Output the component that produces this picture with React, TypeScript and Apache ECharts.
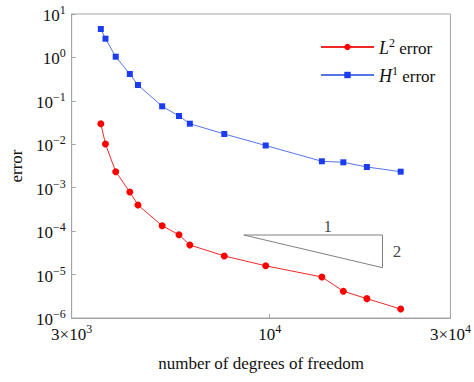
import React, { useEffect, useRef } from "react";
import * as echarts from "echarts";

const dofs = [3582, 3684, 3921, 4272, 4489, 5200, 5760, 6153, 7586, 9758, 13729, 15643, 18050, 22167];
const l2Errors = [0.0298, 0.01016, 0.00234, 0.000796, 0.0004, 0.000133, 8.28e-5, 4.8e-5, 2.68e-5, 1.59e-5, 8.8e-6, 4.12e-6, 2.79e-6, 1.61e-6];
const h1Errors = [4.52, 2.7, 1.04, 0.415, 0.232, 0.075, 0.0448, 0.0298, 0.01726, 0.00938, 0.00406, 0.00385, 0.003, 0.00234];
const xTickLabels = [3000, 10000, 30000];
const xTickMarks = [10000];
const yTickValues = [1e-6, 1e-5, 1e-4, 1e-3, 1e-2, 1e-1, 1, 10];
const slopeTriangleX = [8541, 19849, 19849, 8541];
const slopeTriangleY = [8.15e-5, 8.15e-5, 1.44e-5, 8.15e-5];
const slopeLabelText = ["1", "2"];
const slopeLabelX = [14235, 21684];
const slopeLabelY = [1.25e-4, 3.31e-5];

const FONT = "Liberation Serif";
const GRAY = "#a3a3a3";
const INK = "#111111";

function supRich(base: number, sup: number) {
  return {
    b: { fontSize: base, lineHeight: 20, verticalAlign: "bottom", fontFamily: FONT, color: INK },
    s: { fontSize: sup, lineHeight: 12, verticalAlign: "top", fontFamily: FONT, color: INK },
    i: { fontSize: base + 1, lineHeight: 20, verticalAlign: "bottom", fontFamily: FONT, fontStyle: "italic", color: INK },
  };
}

function expOf(v: number) {
  return Math.round(Math.log10(v));
}

export default function App() {
  const ref = useRef<HTMLDivElement>(null);
  useEffect(() => {
    if (!ref.current) return;
    const chart = echarts.init(ref.current, undefined, { renderer: "svg" });
    const option: any = {
      animation: false,
      backgroundColor: "#ffffff",
      grid: { left: 70, right: 21, top: 14, bottom: 64, show: true, borderColor: GRAY, borderWidth: 1 },
      legend: {
        data: ["L2", "H1"],
        orient: "vertical",
        left: 315,
        top: 32,
        itemWidth: 53,
        itemHeight: 8,
        itemGap: 8,
        textStyle: { fontFamily: FONT, fontSize: 17, color: INK, rich: supRich(17, 12) },
        formatter: (name: string) =>
          name === "L2" ? "{i|L}{s|2}{b| error}" : "{i|H}{s|1}{b| error}",
      },
      xAxis: {
        type: "log",
        logBase: 10,
        min: 3000,
        max: 30000,
        name: "number of degrees of freedom",
        nameLocation: "middle",
        nameGap: 37,
        nameTextStyle: { fontFamily: FONT, fontSize: 17, color: INK },
        axisLine: { show: true, lineStyle: { color: GRAY } },
        axisTick: { show: true, inside: true, length: 4, lineStyle: { color: GRAY }, customValues: xTickMarks },
        axisLabel: {
          customValues: xTickLabels,
          margin: 5,
          showMinLabel: true,
          showMaxLabel: true,
          rich: supRich(17, 12),
          formatter: (v: number) => {
            const e = Math.floor(Math.log10(v) + 1e-9);
            const m = Math.round(v / Math.pow(10, e));
            return m === 1 ? `{b|10}{s|${e}}` : `{b|${m}×10}{s|${e}}`;
          },
        },
        splitLine: { show: false },
        minorTick: { show: false },
      },
      yAxis: {
        type: "log",
        logBase: 10,
        min: 1e-6,
        max: 10,
        name: "error",
        nameLocation: "middle",
        nameGap: 44,
        nameTextStyle: { fontFamily: FONT, fontSize: 17, color: INK },
        axisLine: { show: true, lineStyle: { color: GRAY } },
        axisTick: { show: true, inside: true, length: 4, lineStyle: { color: GRAY }, customValues: yTickValues },
        axisLabel: {
          customValues: yTickValues,
          margin: 6,
          rich: supRich(17, 12),
          formatter: (v: number) => {
            const e = expOf(v);
            return `{b|10}{s|${e < 0 ? "−" + -e : e}}`;
          },
        },
        splitLine: { show: false },
        minorTick: { show: false },
      },
      series: [
        {
          name: "L2",
          type: "line",
          data: dofs.map((d, i) => [d, l2Errors[i]]),
          symbol: "circle",
          symbolSize: 7,
          lineStyle: { color: "#f02828", width: 1 },
          itemStyle: { color: "#ff0000" },
        },
        {
          name: "H1",
          type: "line",
          data: dofs.map((d, i) => [d, h1Errors[i]]),
          symbol: "rect",
          symbolSize: 6,
          lineStyle: { color: "#5874e4", width: 1 },
          itemStyle: { color: "#1c3cf2" },
        },
        {
          name: "slope",
          type: "line",
          data: slopeTriangleX.map((x, i) => [x, slopeTriangleY[i]]),
          symbol: "none",
          silent: true,
          lineStyle: { color: "#808080", width: 1 },
        },
        {
          name: "slopeLabels",
          type: "scatter",
          data: slopeLabelX.map((x, i) => ({ value: [x, slopeLabelY[i]], name: slopeLabelText[i] })),
          symbolSize: 1,
          itemStyle: { color: "rgba(0,0,0,0)" },
          silent: true,
          label: {
            show: true,
            position: "inside",
            formatter: (p: any) => p.name,
            fontFamily: FONT,
            fontSize: 17,
            color: INK,
          },
        },
      ],
    };
    chart.setOption(option);
    return () => chart.dispose();
  }, []);
  return <div ref={ref} style={{ width: 474, height: 382, position: "absolute", left: 0, top: 0 }} />;
}
